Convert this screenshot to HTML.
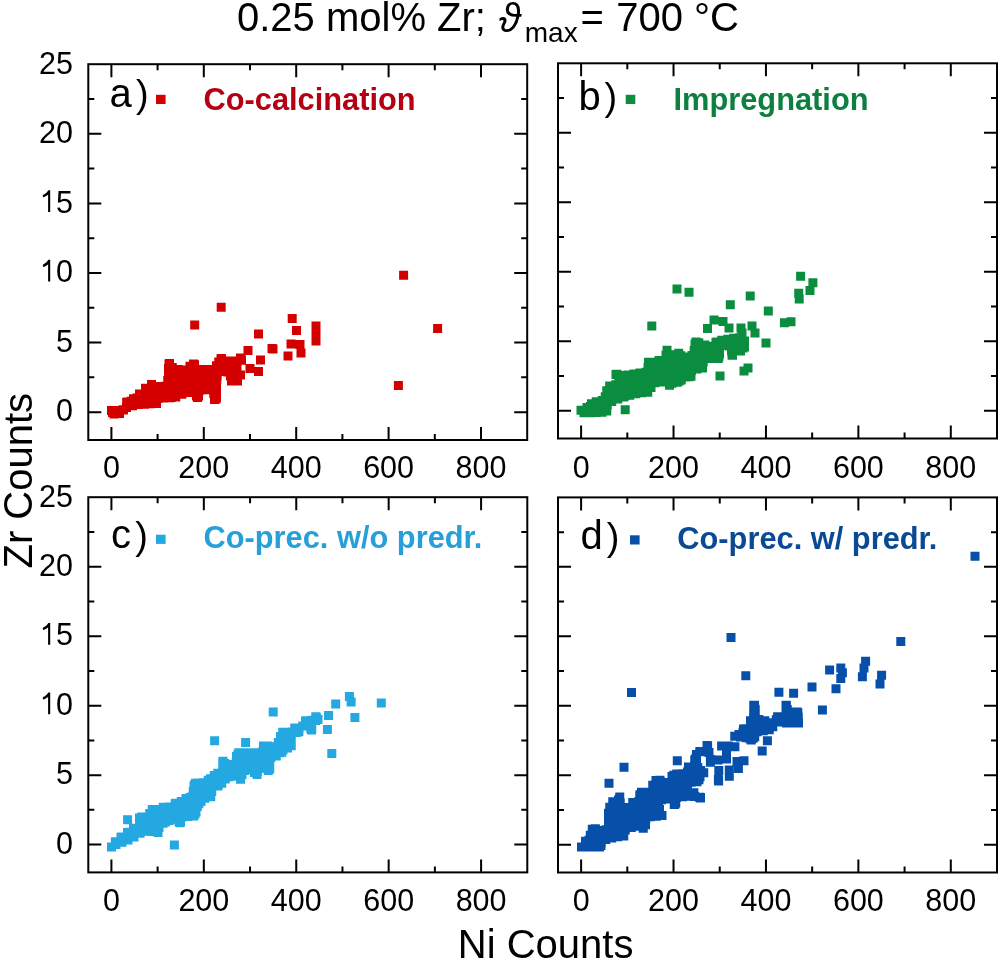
<!DOCTYPE html>
<html><head><meta charset="utf-8"><style>
html,body{margin:0;padding:0;background:#fff;width:1000px;height:962px;overflow:hidden}
svg{display:block;will-change:transform}
text{font-family:"Liberation Sans", sans-serif}
.t{font-size:30.5px;fill:#000}
.lb{font-size:40px;fill:#000}
.pr{font-size:38px;fill:#000}
.lg{font-size:30.8px;font-weight:bold}
.ti{font-size:40px;fill:#000}
</style></head><body>
<svg width="1000" height="962" viewBox="0 0 1000 962">
<rect width="1000" height="962" fill="#fff"/>
<path d="M111.4 440v-13M111.4 64.2v13M157.6 440v-6M157.6 64.2v6M203.8 440v-13M203.8 64.2v13M250 440v-6M250 64.2v6M296.2 440v-13M296.2 64.2v13M342.4 440v-6M342.4 64.2v6M388.6 440v-13M388.6 64.2v13M434.8 440v-6M434.8 64.2v6M481 440v-13M481 64.2v13M88.3 412.16h13M527.2 412.16h-13M88.3 377.37h6M527.2 377.37h-6M88.3 342.57h13M527.2 342.57h-13M88.3 307.77h6M527.2 307.77h-6M88.3 272.98h13M527.2 272.98h-13M88.3 238.18h6M527.2 238.18h-6M88.3 203.39h13M527.2 203.39h-13M88.3 168.59h6M527.2 168.59h-6M88.3 133.79h13M527.2 133.79h-13M88.3 99h6M527.2 99h-6" stroke="#000" stroke-width="2.0" fill="none"/>
<rect x="88.3" y="64.2" width="438.9" height="375.8" stroke="#000" stroke-width="2.0" fill="none"/>
<text x="111.4" y="477.9" text-anchor="middle" class="t">0</text>
<text x="203.8" y="477.9" text-anchor="middle" class="t">200</text>
<text x="296.2" y="477.9" text-anchor="middle" class="t">400</text>
<text x="388.6" y="477.9" text-anchor="middle" class="t">600</text>
<text x="481" y="477.9" text-anchor="middle" class="t">800</text>
<text x="73" y="421.46" text-anchor="end" class="t">0</text>
<text x="73" y="351.87" text-anchor="end" class="t">5</text>
<text x="73" y="282.28" text-anchor="end" class="t">0</text>
<path d="M50.2 259.78v21.7h-2.1v-17.1c-1.1 1 -2.6 1.8 -4.3 2.5l-1 -.6l.1 -1.6c1.9 -.9 3.9 -2.5 5.4 -4.9z" fill="#000"/>
<text x="73" y="212.69" text-anchor="end" class="t">5</text>
<path d="M50.2 190.19v21.7h-2.1v-17.1c-1.1 1 -2.6 1.8 -4.3 2.5l-1 -.6l.1 -1.6c1.9 -.9 3.9 -2.5 5.4 -4.9z" fill="#000"/>
<text x="73" y="143.09" text-anchor="end" class="t">20</text>
<text x="73" y="73.5" text-anchor="end" class="t">25</text>
<path d="M581.11 438.5v-13M581.11 63.3v13M627.32 438.5v-6M627.32 63.3v6M673.53 438.5v-13M673.53 63.3v13M719.74 438.5v-6M719.74 63.3v6M765.95 438.5v-13M765.95 63.3v13M812.16 438.5v-6M812.16 63.3v6M858.37 438.5v-13M858.37 63.3v13M904.58 438.5v-6M904.58 63.3v6M950.79 438.5v-13M950.79 63.3v13M558 410.71h13M997 410.71h-13M558 375.97h6M997 375.97h-6M558 341.23h13M997 341.23h-13M558 306.49h6M997 306.49h-6M558 271.74h13M997 271.74h-13M558 237h6M997 237h-6M558 202.26h13M997 202.26h-13M558 167.52h6M997 167.52h-6M558 132.78h13M997 132.78h-13M558 98.04h6M997 98.04h-6" stroke="#000" stroke-width="2.0" fill="none"/>
<rect x="558" y="63.3" width="439" height="375.2" stroke="#000" stroke-width="2.0" fill="none"/>
<text x="581.11" y="477.9" text-anchor="middle" class="t">0</text>
<text x="673.53" y="477.9" text-anchor="middle" class="t">200</text>
<text x="765.95" y="477.9" text-anchor="middle" class="t">400</text>
<text x="858.37" y="477.9" text-anchor="middle" class="t">600</text>
<text x="950.79" y="477.9" text-anchor="middle" class="t">800</text>
<path d="M111.41 872.4v-13M111.41 497.2v13M157.62 872.4v-6M157.62 497.2v6M203.83 872.4v-13M203.83 497.2v13M250.04 872.4v-6M250.04 497.2v6M296.25 872.4v-13M296.25 497.2v13M342.46 872.4v-6M342.46 497.2v6M388.67 872.4v-13M388.67 497.2v13M434.88 872.4v-6M434.88 497.2v6M481.09 872.4v-13M481.09 497.2v13M88.3 844.61h13M527.3 844.61h-13M88.3 809.87h6M527.3 809.87h-6M88.3 775.13h13M527.3 775.13h-13M88.3 740.39h6M527.3 740.39h-6M88.3 705.64h13M527.3 705.64h-13M88.3 670.9h6M527.3 670.9h-6M88.3 636.16h13M527.3 636.16h-13M88.3 601.42h6M527.3 601.42h-6M88.3 566.68h13M527.3 566.68h-13M88.3 531.94h6M527.3 531.94h-6" stroke="#000" stroke-width="2.0" fill="none"/>
<rect x="88.3" y="497.2" width="439" height="375.2" stroke="#000" stroke-width="2.0" fill="none"/>
<text x="111.41" y="910.9" text-anchor="middle" class="t">0</text>
<text x="203.83" y="910.9" text-anchor="middle" class="t">200</text>
<text x="296.25" y="910.9" text-anchor="middle" class="t">400</text>
<text x="388.67" y="910.9" text-anchor="middle" class="t">600</text>
<text x="481.09" y="910.9" text-anchor="middle" class="t">800</text>
<text x="73" y="853.91" text-anchor="end" class="t">0</text>
<text x="73" y="784.43" text-anchor="end" class="t">5</text>
<text x="73" y="714.94" text-anchor="end" class="t">0</text>
<path d="M50.2 692.44v21.7h-2.1v-17.1c-1.1 1 -2.6 1.8 -4.3 2.5l-1 -.6l.1 -1.6c1.9 -.9 3.9 -2.5 5.4 -4.9z" fill="#000"/>
<text x="73" y="645.46" text-anchor="end" class="t">5</text>
<path d="M50.2 622.96v21.7h-2.1v-17.1c-1.1 1 -2.6 1.8 -4.3 2.5l-1 -.6l.1 -1.6c1.9 -.9 3.9 -2.5 5.4 -4.9z" fill="#000"/>
<text x="73" y="575.98" text-anchor="end" class="t">20</text>
<text x="73" y="506.5" text-anchor="end" class="t">25</text>
<path d="M581.11 872.5v-13M581.11 497.4v13M627.32 872.5v-6M627.32 497.4v6M673.53 872.5v-13M673.53 497.4v13M719.74 872.5v-6M719.74 497.4v6M765.95 872.5v-13M765.95 497.4v13M812.16 872.5v-6M812.16 497.4v6M858.37 872.5v-13M858.37 497.4v13M904.58 872.5v-6M904.58 497.4v6M950.79 872.5v-13M950.79 497.4v13M558 844.71h13M997 844.71h-13M558 809.98h6M997 809.98h-6M558 775.25h13M997 775.25h-13M558 740.52h6M997 740.52h-6M558 705.79h13M997 705.79h-13M558 671.06h6M997 671.06h-6M558 636.33h13M997 636.33h-13M558 601.59h6M997 601.59h-6M558 566.86h13M997 566.86h-13M558 532.13h6M997 532.13h-6" stroke="#000" stroke-width="2.0" fill="none"/>
<rect x="558" y="497.4" width="439" height="375.1" stroke="#000" stroke-width="2.0" fill="none"/>
<text x="581.11" y="910.9" text-anchor="middle" class="t">0</text>
<text x="673.53" y="910.9" text-anchor="middle" class="t">200</text>
<text x="765.95" y="910.9" text-anchor="middle" class="t">400</text>
<text x="858.37" y="910.9" text-anchor="middle" class="t">600</text>
<text x="950.79" y="910.9" text-anchor="middle" class="t">800</text>
<path d="M216.67 357.52h9v9h-9zM221.05 357.16h9v9h-9zM227.31 356.9h9v9h-9zM186.49 362.05h9v9h-9zM212.04 363.67h9v9h-9zM216.26 362.93h9v9h-9zM221.06 361.81h9v9h-9zM227.02 361.31h9v9h-9zM232.27 362.57h9v9h-9zM166.87 368.01h9v9h-9zM172.47 367.84h9v9h-9zM176.19 367.59h9v9h-9zM180.8 367.71h9v9h-9zM185.32 366.66h9v9h-9zM191.1 368.2h9v9h-9zM197.02 367.11h9v9h-9zM201.79 366.4h9v9h-9zM205.69 368.66h9v9h-9zM210.99 367.25h9v9h-9zM216.62 367h9v9h-9zM221.45 366.88h9v9h-9zM225.42 366.73h9v9h-9zM231.56 366.47h9v9h-9zM166.93 372.32h9v9h-9zM171.18 373.67h9v9h-9zM175.93 373.17h9v9h-9zM181.33 372.16h9v9h-9zM185.45 373.37h9v9h-9zM191.98 373.47h9v9h-9zM196.38 372.92h9v9h-9zM200.59 372.26h9v9h-9zM205.8 371.4h9v9h-9zM212.58 371.82h9v9h-9zM232.66 371.66h9v9h-9zM165.34 378.33h9v9h-9zM171.09 376.69h9v9h-9zM175.66 377.87h9v9h-9zM182.62 377.51h9v9h-9zM187.46 377.51h9v9h-9zM191.68 377.93h9v9h-9zM197.23 378.12h9v9h-9zM202.68 378.09h9v9h-9zM207.47 376.79h9v9h-9zM211.58 377.74h9v9h-9zM145.66 383.67h9v9h-9zM151.29 382.77h9v9h-9zM161.43 381.66h9v9h-9zM165.38 382.78h9v9h-9zM171.81 381.55h9v9h-9zM176.62 382.13h9v9h-9zM181.22 383.16h9v9h-9zM186.48 383.42h9v9h-9zM191.76 382.42h9v9h-9zM196.82 382.11h9v9h-9zM200.6 382.94h9v9h-9zM206.79 383.19h9v9h-9zM210.61 383.49h9v9h-9zM141.03 386.57h9v9h-9zM146.32 387.66h9v9h-9zM152.51 388.55h9v9h-9zM156.3 386.54h9v9h-9zM162.16 388.06h9v9h-9zM165.37 387.37h9v9h-9zM171.95 386.37h9v9h-9zM177.51 388.61h9v9h-9zM182.03 386.49h9v9h-9zM185.47 387.16h9v9h-9zM190.37 387.13h9v9h-9zM210.79 387.92h9v9h-9zM132.45 393.57h9v9h-9zM137.23 392.06h9v9h-9zM140.88 393.11h9v9h-9zM146 392.31h9v9h-9zM150.41 391.62h9v9h-9zM155.35 391.49h9v9h-9zM160.48 392.31h9v9h-9zM166.62 393.08h9v9h-9zM170.64 392.31h9v9h-9zM122.14 397.81h9v9h-9zM126.61 396.67h9v9h-9zM132 397.43h9v9h-9zM136.93 398.12h9v9h-9zM140.86 398.13h9v9h-9zM145.97 398.66h9v9h-9zM150.59 398.42h9v9h-9zM111.83 406.72h9v9h-9zM107 406h9v9h-9zM109.5 409.5h9v9h-9zM115 409h9v9h-9zM113.75 406h9v9h-9zM107.75 406h9v9h-9zM236 353.5h9v9h-9zM232.75 356.5h9v9h-9zM226.75 356.5h9v9h-9zM220.75 356.5h9v9h-9zM217 354h9v9h-9zM214.25 357.5h9v9h-9zM212 361.25h9v9h-9zM209.5 365h9v9h-9zM203.5 365h9v9h-9zM197.5 365h9v9h-9zM191.5 365h9v9h-9zM190 360.25h9v9h-9zM185.5 361.75h9v9h-9zM179.75 365.5h9v9h-9zM173.75 365h9v9h-9zM167.75 363h9v9h-9zM165 359h9v9h-9zM164 364h9v9h-9zM164 370h9v9h-9zM163.25 376h9v9h-9zM159 382h9v9h-9zM153 382h9v9h-9zM147 380h9v9h-9zM141 383.75h9v9h-9zM135 389.5h9v9h-9zM129 394.25h9v9h-9zM123 397.5h9v9h-9zM122 403h9v9h-9zM128 401.25h9v9h-9zM134 400h9v9h-9zM140 399.75h9v9h-9zM146 399.25h9v9h-9zM152 399h9v9h-9zM153.25 394h9v9h-9zM159.25 393.5h9v9h-9zM165.25 393.25h9v9h-9zM171.25 392.5h9v9h-9zM177.25 389.75h9v9h-9zM183.25 388h9v9h-9zM189.25 388h9v9h-9zM192 391.5h9v9h-9zM194 391.5h9v9h-9zM194.75 386h9v9h-9zM200.75 385.25h9v9h-9zM206.75 385h9v9h-9zM209.25 389h9v9h-9zM210 395h9v9h-9zM212 393h9v9h-9zM212 387h9v9h-9zM212 381h9v9h-9zM212.25 375h9v9h-9zM212.75 369h9v9h-9zM217.25 367h9v9h-9zM223.25 367.5h9v9h-9zM226 371.5h9v9h-9zM227 376.5h9v9h-9zM233 376.5h9v9h-9zM236 370.5h9v9h-9zM232.5 366.25h9v9h-9zM232.25 360.25h9v9h-9zM237 355.75h9v9h-9zM119 405.25h9v9h-9zM118.5 405.5h9v9h-9zM216.7 302.7h9v9h-9zM190.2 320.5h9v9h-9zM287.7 314h9v9h-9zM292 326h9v9h-9zM254 329.5h9v9h-9zM267.5 344h9v9h-9zM243.5 346h9v9h-9zM311.5 321.5h9v9h-9zM311.5 330.5h9v9h-9zM311.5 336.5h9v9h-9zM286.5 339.5h9v9h-9zM295.5 340h9v9h-9zM296.5 348.5h9v9h-9zM283.5 351.5h9v9h-9zM268.5 344.5h9v9h-9zM256 355.5h9v9h-9zM245.5 364h9v9h-9zM254 367h9v9h-9zM399.1 270.7h9v9h-9zM433.1 323.9h9v9h-9zM393.9 380.9h9v9h-9zM211.5 394.5h9v9h-9zM193 393h9v9h-9zM230 375.5h9v9h-9zM164.5 359.5h9v9h-9zM189 359.5h9v9h-9zM216.5 354.5h9v9h-9zM236.5 353.5h9v9h-9zM108 408h9v9h-9zM113.5 408h9v9h-9z" fill="#d40000"/>
<path d="M691.4 337.66h9v9h-9zM714.68 337.57h9v9h-9zM720.47 337.65h9v9h-9zM726.11 338.42h9v9h-9zM730.49 337.05h9v9h-9zM735.42 338.24h9v9h-9zM694.32 341.66h9v9h-9zM700.1 343.2h9v9h-9zM706.02 342.11h9v9h-9zM710.79 341.4h9v9h-9zM714.69 343.66h9v9h-9zM730.45 341.88h9v9h-9zM734.42 341.73h9v9h-9zM689.65 346.78h9v9h-9zM695.21 347.61h9v9h-9zM699.66 348.67h9v9h-9zM706.66 346.66h9v9h-9zM710.27 347.93h9v9h-9zM665.71 353.34h9v9h-9zM671.22 352.88h9v9h-9zM674.3 351.74h9v9h-9zM684.46 353.36h9v9h-9zM691.56 352.03h9v9h-9zM695.28 353.24h9v9h-9zM699.45 352.84h9v9h-9zM704.61 351.99h9v9h-9zM711.29 351.43h9v9h-9zM714.39 352.3h9v9h-9zM654.41 358.54h9v9h-9zM660.47 358.46h9v9h-9zM666.57 357.9h9v9h-9zM670.67 356.82h9v9h-9zM674.52 358.27h9v9h-9zM681.43 358.17h9v9h-9zM685.98 357.31h9v9h-9zM690.03 356.57h9v9h-9zM695.32 357.66h9v9h-9zM646.45 363.57h9v9h-9zM651.23 362.06h9v9h-9zM654.88 363.11h9v9h-9zM660 362.31h9v9h-9zM664.41 361.62h9v9h-9zM669.35 361.49h9v9h-9zM674.48 362.31h9v9h-9zM680.62 363.08h9v9h-9zM684.64 362.31h9v9h-9zM690.83 361.5h9v9h-9zM695.37 362.19h9v9h-9zM645.25 366.54h9v9h-9zM649.91 366.98h9v9h-9zM656.11 368.48h9v9h-9zM660.73 366.39h9v9h-9zM666.2 367.03h9v9h-9zM670.12 367.57h9v9h-9zM674.9 368.51h9v9h-9zM679.69 367.3h9v9h-9zM685 367.55h9v9h-9zM616.7 373.4h9v9h-9zM620.98 373.05h9v9h-9zM624.84 373.1h9v9h-9zM629.99 371.55h9v9h-9zM635.41 372.09h9v9h-9zM639.7 372.31h9v9h-9zM646.45 372.34h9v9h-9zM650.37 373h9v9h-9zM655.56 371.61h9v9h-9zM661.48 372.37h9v9h-9zM666.19 372.23h9v9h-9zM671.24 372.23h9v9h-9zM674.83 371.77h9v9h-9zM684.42 372.23h9v9h-9zM619.41 377.18h9v9h-9zM624.8 377.56h9v9h-9zM629.75 376.78h9v9h-9zM635.91 378.07h9v9h-9zM640.05 378.36h9v9h-9zM644.91 377.13h9v9h-9zM651.01 376.41h9v9h-9zM656.54 376.47h9v9h-9zM671.65 377.41h9v9h-9zM674.58 376.5h9v9h-9zM605.16 382.92h9v9h-9zM610.99 382.89h9v9h-9zM614.83 383.3h9v9h-9zM619.88 382.54h9v9h-9zM625.92 381.86h9v9h-9zM630.81 381.99h9v9h-9zM634.71 383.24h9v9h-9zM640.63 382.09h9v9h-9zM645.71 381.36h9v9h-9zM605.81 386.36h9v9h-9zM609.41 386.84h9v9h-9zM615.87 386.46h9v9h-9zM619.45 388.63h9v9h-9zM625.31 388.44h9v9h-9zM629.82 387.34h9v9h-9zM635.16 386.72h9v9h-9zM601.65 393.15h9v9h-9zM605.67 391.93h9v9h-9zM610.95 392.39h9v9h-9zM616.03 392.27h9v9h-9zM620.49 391.35h9v9h-9zM594.98 397.33h9v9h-9zM601.68 398.02h9v9h-9zM586.01 402.09h9v9h-9zM589.36 402.44h9v9h-9zM595.55 401.4h9v9h-9zM600.66 402.13h9v9h-9zM581.27 407.12h9v9h-9zM586.25 406.49h9v9h-9zM590.33 407.15h9v9h-9zM735.25 333.25h9v9h-9zM729.25 333.75h9v9h-9zM723.25 334.75h9v9h-9zM717.25 335.75h9v9h-9zM711.5 337.75h9v9h-9zM706.25 342h9v9h-9zM700.25 341.5h9v9h-9zM694.25 338.25h9v9h-9zM690.5 339.75h9v9h-9zM689.75 345.75h9v9h-9zM687.5 351h9v9h-9zM681.5 352.5h9v9h-9zM676.25 351.25h9v9h-9zM674.25 348.75h9v9h-9zM670.75 352h9v9h-9zM665.75 350.25h9v9h-9zM662.5 345.75h9v9h-9zM661.5 350.75h9v9h-9zM660.5 356h9v9h-9zM654.5 356h9v9h-9zM650 357.75h9v9h-9zM644 357.75h9v9h-9zM643.5 363.25h9v9h-9zM641.5 367.75h9v9h-9zM635.5 368.5h9v9h-9zM629.5 369.5h9v9h-9zM623.5 370.5h9v9h-9zM617.5 371h9v9h-9zM612.5 369.75h9v9h-9zM614.25 371.75h9v9h-9zM615.25 377.5h9v9h-9zM611.25 380.25h9v9h-9zM605.25 381.5h9v9h-9zM602.25 386.25h9v9h-9zM600.75 392.25h9v9h-9zM597.75 396h9v9h-9zM591.75 397.25h9v9h-9zM587 399.25h9v9h-9zM582.5 403h9v9h-9zM576.5 405.75h9v9h-9zM579.5 408.25h9v9h-9zM585.5 408.25h9v9h-9zM591.5 408h9v9h-9zM597.5 407.75h9v9h-9zM602.25 406.5h9v9h-9zM602.75 400.5h9v9h-9zM607.25 397h9v9h-9zM613.25 394.5h9v9h-9zM619.25 392.5h9v9h-9zM625.25 390.75h9v9h-9zM631.25 389.25h9v9h-9zM637.25 388.25h9v9h-9zM643.25 387.75h9v9h-9zM646.5 383h9v9h-9zM650.25 378.25h9v9h-9zM656.25 377.5h9v9h-9zM662.25 377.25h9v9h-9zM665 380.75h9v9h-9zM667.5 378.75h9v9h-9zM672.75 377.75h9v9h-9zM676.75 375.5h9v9h-9zM680.75 372.5h9v9h-9zM686.5 371.75h9v9h-9zM687 365.75h9v9h-9zM692.5 364.5h9v9h-9zM698 363.5h9v9h-9zM698.75 357.5h9v9h-9zM701.75 354h9v9h-9zM707.75 354h9v9h-9zM713.75 354h9v9h-9zM715 349.25h9v9h-9zM715 343.25h9v9h-9zM719 341h9v9h-9zM725 341.5h9v9h-9zM727 346.25h9v9h-9zM728 350.75h9v9h-9zM730 346.5h9v9h-9zM736 346.5h9v9h-9zM740 342.5h9v9h-9zM740 336.5h9v9h-9zM737.25 333.25h9v9h-9zM796.1 271.7h9v9h-9zM808.4 278.3h9v9h-9zM805.5 285.9h9v9h-9zM794.2 288.8h9v9h-9zM794.7 294.5h9v9h-9zM672.5 284.4h9v9h-9zM684.5 287.8h9v9h-9zM745.7 291.6h9v9h-9zM725.8 300.2h9v9h-9zM763.8 306.4h9v9h-9zM647.3 321.6h9v9h-9zM779.9 318.2h9v9h-9zM786.5 317.3h9v9h-9zM703 324h9v9h-9zM709.5 315.5h9v9h-9zM718.5 317h9v9h-9zM724.5 323.5h9v9h-9zM736.5 323.5h9v9h-9zM747.5 321.5h9v9h-9zM750.5 328.5h9v9h-9zM737.5 328.5h9v9h-9zM761.5 338.5h9v9h-9zM715.5 371.5h9v9h-9zM739.5 366.5h9v9h-9zM743.5 363.5h9v9h-9zM727.5 350.5h9v9h-9zM738.5 343.5h9v9h-9zM713 337.5h9v9h-9zM713.5 353.5h9v9h-9zM691.5 337.5h9v9h-9zM700.5 340.5h9v9h-9zM620.7 405.3h9v9h-9zM611.5 370h9v9h-9z" fill="#0a8d3f"/>
<path d="M210.51 772.39h9v9h-9zM190.82 778.79h9v9h-9zM200.29 778.86h9v9h-9zM204.3 777.76h9v9h-9zM210.1 777.87h9v9h-9zM189.53 782.59h9v9h-9zM195.86 784.4h9v9h-9zM199.97 784.65h9v9h-9zM204.54 784.35h9v9h-9zM189.99 788.25h9v9h-9zM195.62 788h9v9h-9zM200.45 787.88h9v9h-9zM204.42 787.73h9v9h-9zM185.33 793.16h9v9h-9zM189.45 794.37h9v9h-9zM195.98 794.47h9v9h-9zM171.32 798.7h9v9h-9zM176.02 799.24h9v9h-9zM179.46 797.5h9v9h-9zM186.39 797.39h9v9h-9zM189.84 797.4h9v9h-9zM194.34 799.33h9v9h-9zM161.56 803.03h9v9h-9zM165.28 804.24h9v9h-9zM169.45 803.84h9v9h-9zM174.61 802.99h9v9h-9zM181.29 802.43h9v9h-9zM184.39 803.3h9v9h-9zM190.48 804.37h9v9h-9zM151.22 809.5h9v9h-9zM156.39 808.93h9v9h-9zM161.24 808.55h9v9h-9zM166.19 807.75h9v9h-9zM171.18 808.37h9v9h-9zM176.12 808.39h9v9h-9zM181.19 807.48h9v9h-9zM184.41 809.54h9v9h-9zM190.47 809.46h9v9h-9zM136.51 814.61h9v9h-9zM144.47 813.16h9v9h-9zM149.37 813.13h9v9h-9zM154.32 814.64h9v9h-9zM161.27 812.47h9v9h-9zM166.44 812.8h9v9h-9zM169.79 813.92h9v9h-9zM176.55 812.6h9v9h-9zM139.35 817.49h9v9h-9zM144.48 818.31h9v9h-9zM150.62 819.08h9v9h-9zM154.64 818.31h9v9h-9zM160.83 817.5h9v9h-9zM175.28 818.3h9v9h-9zM131.14 823.81h9v9h-9zM135.61 822.67h9v9h-9zM141 823.43h9v9h-9zM145.93 824.12h9v9h-9zM149.86 824.13h9v9h-9zM125.81 827.68h9v9h-9zM130.97 828.22h9v9h-9zM135.72 827.63h9v9h-9zM116.45 833.34h9v9h-9zM120.37 834h9v9h-9zM125.56 832.61h9v9h-9zM110.87 837.64h9v9h-9zM212 771.25h9v9h-9zM206 774.25h9v9h-9zM200 778.25h9v9h-9zM194 778.5h9v9h-9zM189.75 780.75h9v9h-9zM188.75 786.75h9v9h-9zM187.25 792.5h9v9h-9zM181.5 794h9v9h-9zM176.75 797h9v9h-9zM170.75 799.25h9v9h-9zM164.75 802.5h9v9h-9zM158.75 802.75h9v9h-9zM153.75 805h9v9h-9zM147.75 805h9v9h-9zM145.25 809h9v9h-9zM142.75 813.25h9v9h-9zM137.25 812.5h9v9h-9zM135 813.5h9v9h-9zM135 819.5h9v9h-9zM129 824.25h9v9h-9zM123 828h9v9h-9zM117 832.5h9v9h-9zM111 837.25h9v9h-9zM107 842.5h9v9h-9zM111.5 840h9v9h-9zM117.5 837.75h9v9h-9zM123.5 835.5h9v9h-9zM129.5 832.5h9v9h-9zM135.5 828.75h9v9h-9zM141.5 826.75h9v9h-9zM147.5 827h9v9h-9zM153.5 828h9v9h-9zM154.5 823h9v9h-9zM158.5 818.75h9v9h-9zM164.5 816h9v9h-9zM170.5 814.75h9v9h-9zM174.5 817h9v9h-9zM176 817.5h9v9h-9zM177.25 812.5h9v9h-9zM183.25 812h9v9h-9zM189.25 811.5h9v9h-9zM191.5 807.5h9v9h-9zM192.75 802h9v9h-9zM196.5 797h9v9h-9zM200.25 793.75h9v9h-9zM206.25 792.25h9v9h-9zM207.25 787h9v9h-9zM210.25 781h9v9h-9zM212 775h9v9h-9zM213.25 768.75h9v9h-9zM302.56 717.46h9v9h-9zM308.52 715.8h9v9h-9zM287.48 727.38h9v9h-9zM294.19 727.29h9v9h-9zM278.73 731.38h9v9h-9zM283.05 730.45h9v9h-9zM279.21 735.49h9v9h-9zM284.58 735.72h9v9h-9zM274.29 741.25h9v9h-9zM278.26 741.77h9v9h-9zM282.86 740.32h9v9h-9zM259.12 745.43h9v9h-9zM263.94 747.02h9v9h-9zM268.14 746.54h9v9h-9zM272.7 747.05h9v9h-9zM277.4 747.65h9v9h-9zM233.35 750.35h9v9h-9zM238.81 751.75h9v9h-9zM244.3 750.8h9v9h-9zM247.98 751.6h9v9h-9zM252.96 751.71h9v9h-9zM257.9 751.94h9v9h-9zM264.2 752.24h9v9h-9zM269.64 751.61h9v9h-9zM218.48 756.85h9v9h-9zM233.74 757.42h9v9h-9zM239.29 756.53h9v9h-9zM244.67 756.41h9v9h-9zM249.3 756.28h9v9h-9zM254.09 757.67h9v9h-9zM258.03 755.71h9v9h-9zM263.79 756.57h9v9h-9zM219.3 761.46h9v9h-9zM223.42 760.41h9v9h-9zM228.52 762.09h9v9h-9zM233.31 761.15h9v9h-9zM238.88 760.35h9v9h-9zM243.52 762.57h9v9h-9zM248.96 761.26h9v9h-9zM253.95 761.75h9v9h-9zM257.8 760.8h9v9h-9zM264.43 760.95h9v9h-9zM218.8 765.7h9v9h-9zM224.64 766.36h9v9h-9zM229.49 767.05h9v9h-9zM233.76 765.93h9v9h-9zM238.56 765.63h9v9h-9zM252.88 767.02h9v9h-9zM213.72 772.48h9v9h-9zM219.69 770.41h9v9h-9zM224.21 772.36h9v9h-9zM228.07 771.22h9v9h-9zM203.75 776.64h9v9h-9zM208.55 775.45h9v9h-9zM213.15 776.29h9v9h-9zM203.09 781.11h9v9h-9zM213.7 780.55h9v9h-9zM290.25 723.5h9v9h-9zM284.25 727.75h9v9h-9zM278.25 727.75h9v9h-9zM276 732h9v9h-9zM273.75 738h9v9h-9zM269.25 742.25h9v9h-9zM263.25 741.5h9v9h-9zM259 741.5h9v9h-9zM258.25 747.25h9v9h-9zM252.25 748.25h9v9h-9zM246.25 748.25h9v9h-9zM240.25 748.25h9v9h-9zM234.25 748.25h9v9h-9zM232 752h9v9h-9zM231.75 758h9v9h-9zM225.75 760h9v9h-9zM220.25 759h9v9h-9zM218.25 758.75h9v9h-9zM218.25 764.75h9v9h-9zM215.75 769.25h9v9h-9zM209.75 771h9v9h-9zM203.75 775.75h9v9h-9zM199 778.25h9v9h-9zM201.25 782h9v9h-9zM207.25 782h9v9h-9zM213.25 781.5h9v9h-9zM217.25 778.75h9v9h-9zM220.75 774.5h9v9h-9zM226.75 771.75h9v9h-9zM232.75 771.25h9v9h-9zM236 774.75h9v9h-9zM237.5 770.25h9v9h-9zM240 766h9v9h-9zM246 765.25h9v9h-9zM250 768h9v9h-9zM252.5 770h9v9h-9zM254.5 764h9v9h-9zM260.5 763h9v9h-9zM263.75 766h9v9h-9zM265.25 764.5h9v9h-9zM265.25 758.5h9v9h-9zM266.25 753h9v9h-9zM271.75 751.5h9v9h-9zM275 748.25h9v9h-9zM278.5 745.25h9v9h-9zM283 743.5h9v9h-9zM286.75 741.25h9v9h-9zM286.75 735.25h9v9h-9zM286.75 729.25h9v9h-9zM291.75 728h9v9h-9zM294.5 724.75h9v9h-9zM311.25 712.25h9v9h-9zM306.75 716h9v9h-9zM301 716.75h9v9h-9zM303.75 719.5h9v9h-9zM306.25 723.75h9v9h-9zM307.25 724.5h9v9h-9zM307.25 718.5h9v9h-9zM311 716h9v9h-9zM298.25 721.5h9v9h-9zM268.7 707.5h9v9h-9zM210.1 736.3h9v9h-9zM241.1 738.1h9v9h-9zM344.9 692h9v9h-9zM346.6 697.5h9v9h-9zM331.2 699.5h9v9h-9zM376.8 698.4h9v9h-9zM350.4 712.9h9v9h-9zM324 710.9h9v9h-9zM311.9 712.9h9v9h-9zM313.5 715.1h9v9h-9zM301.5 716.2h9v9h-9zM307 725.5h9v9h-9zM322.9 725h9v9h-9zM327.3 749h9v9h-9zM291.5 723.9h9v9h-9zM294.3 727.2h9v9h-9zM169.9 840.5h9v9h-9zM123.1 815.3h9v9h-9z" fill="#23a8e2"/>
<path d="M690.79 754.4h9v9h-9zM690.38 760.92h9v9h-9zM686.46 765.51h9v9h-9zM690.68 765.93h9v9h-9zM696.23 766.12h9v9h-9zM669.38 770.78h9v9h-9zM675.81 769.55h9v9h-9zM680.62 770.13h9v9h-9zM685.22 771.16h9v9h-9zM690.48 771.42h9v9h-9zM655.32 775.66h9v9h-9zM671.16 776.06h9v9h-9zM674.37 775.37h9v9h-9zM680.95 774.37h9v9h-9zM686.51 776.61h9v9h-9zM691.03 774.49h9v9h-9zM694.47 775.16h9v9h-9zM651.23 780.06h9v9h-9zM654.88 781.11h9v9h-9zM660 780.31h9v9h-9zM664.41 779.62h9v9h-9zM669.35 779.49h9v9h-9zM674.48 780.31h9v9h-9zM680.62 781.08h9v9h-9zM651 785.43h9v9h-9zM655.93 786.12h9v9h-9zM659.86 786.13h9v9h-9zM664.97 786.66h9v9h-9zM669.59 786.42h9v9h-9zM674.4 784.92h9v9h-9zM680.56 785.7h9v9h-9zM635.43 790.3h9v9h-9zM640.44 790.97h9v9h-9zM645.06 790.86h9v9h-9zM649.44 790.02h9v9h-9zM656.09 789.43h9v9h-9zM660.79 789.36h9v9h-9zM665.43 791.43h9v9h-9zM669.32 790.56h9v9h-9zM674.46 791.38h9v9h-9zM680.95 791.08h9v9h-9zM685.91 789.32h9v9h-9zM689.4 790.79h9v9h-9zM614.83 794.77h9v9h-9zM640.83 794.72h9v9h-9zM645.77 795.77h9v9h-9zM650.99 795.53h9v9h-9zM609.75 799.78h9v9h-9zM631.01 799.41h9v9h-9zM636.54 799.47h9v9h-9zM640.41 801.04h9v9h-9zM644.41 801.24h9v9h-9zM651.65 800.41h9v9h-9zM670.36 799.49h9v9h-9zM605.88 806.08h9v9h-9zM610.54 806.36h9v9h-9zM614.59 805.85h9v9h-9zM619.58 806.07h9v9h-9zM625.16 805.92h9v9h-9zM630.99 805.89h9v9h-9zM634.83 806.3h9v9h-9zM639.88 805.54h9v9h-9zM645.92 804.86h9v9h-9zM650.81 804.99h9v9h-9zM654.71 806.24h9v9h-9zM605.05 811.33h9v9h-9zM609.92 810.75h9v9h-9zM615.99 811.27h9v9h-9zM621.18 810.22h9v9h-9zM624.44 809.39h9v9h-9zM631.04 811.61h9v9h-9zM635.12 810.36h9v9h-9zM641.04 810.88h9v9h-9zM644.92 810.91h9v9h-9zM650.03 810.16h9v9h-9zM655.59 811.06h9v9h-9zM606.06 814.66h9v9h-9zM610.09 816.32h9v9h-9zM616.27 814.89h9v9h-9zM619.35 816.24h9v9h-9zM624.71 816.19h9v9h-9zM630.94 814.7h9v9h-9zM634.49 816.53h9v9h-9zM640.73 815.79h9v9h-9zM605.57 820.12h9v9h-9zM611.65 821.63h9v9h-9zM614.8 820.66h9v9h-9zM620.09 821.62h9v9h-9zM626.52 820.71h9v9h-9zM631.03 820.94h9v9h-9zM635.15 821.5h9v9h-9zM591.11 824.94h9v9h-9zM601.68 826.02h9v9h-9zM606.57 825.59h9v9h-9zM610.63 826.68h9v9h-9zM614.76 826.18h9v9h-9zM586.16 830.76h9v9h-9zM589.52 829.37h9v9h-9zM594.33 829.9h9v9h-9zM601.13 830.23h9v9h-9zM606.16 830.8h9v9h-9zM610.23 831.41h9v9h-9zM614.39 830.42h9v9h-9zM584.5 835.64h9v9h-9zM591.25 834.78h9v9h-9zM594.93 835.98h9v9h-9zM599.91 834.92h9v9h-9zM581.01 840.16h9v9h-9zM586.3 839.49h9v9h-9zM589.43 840.15h9v9h-9zM596.46 841.12h9v9h-9zM696 793h9v9h-9zM692 750h9v9h-9zM690.25 755.75h9v9h-9zM690 761.75h9v9h-9zM684 762.5h9v9h-9zM683 767.5h9v9h-9zM678.25 769.25h9v9h-9zM672.25 769.5h9v9h-9zM667.5 772h9v9h-9zM664.5 778h9v9h-9zM659.25 779.75h9v9h-9zM655.75 776.75h9v9h-9zM651.5 776h9v9h-9zM648.25 780.75h9v9h-9zM648.25 786.75h9v9h-9zM643 787.75h9v9h-9zM637 787.75h9v9h-9zM635.25 791.75h9v9h-9zM634.25 797.25h9v9h-9zM628.25 798h9v9h-9zM623.5 803h9v9h-9zM617.5 803.25h9v9h-9zM615.75 798.5h9v9h-9zM615.25 792.5h9v9h-9zM614 795.75h9v9h-9zM608.25 797.25h9v9h-9zM605.25 802.75h9v9h-9zM604 808.75h9v9h-9zM604 814.75h9v9h-9zM604 820.75h9v9h-9zM601.75 825.25h9v9h-9zM595.75 826h9v9h-9zM590.75 824.25h9v9h-9zM587.75 824.75h9v9h-9zM585.75 830.75h9v9h-9zM581 836.75h9v9h-9zM577 842.5h9v9h-9zM583 842.5h9v9h-9zM589 842.5h9v9h-9zM595 842.5h9v9h-9zM596.75 838h9v9h-9zM601.25 835h9v9h-9zM607.25 833.5h9v9h-9zM613.25 832.25h9v9h-9zM619.25 831.5h9v9h-9zM620.75 825.5h9v9h-9zM626.75 823h9v9h-9zM632.75 821.75h9v9h-9zM638.75 823.75h9v9h-9zM641 820.25h9v9h-9zM641.25 814.25h9v9h-9zM645.75 812.25h9v9h-9zM651.75 811.75h9v9h-9zM657.5 811h9v9h-9zM655 805h9v9h-9zM654 799h9v9h-9zM657 795.25h9v9h-9zM663 794.5h9v9h-9zM669 794.5h9v9h-9zM669.75 800h9v9h-9zM671.25 798.5h9v9h-9zM672 793h9v9h-9zM678 792.25h9v9h-9zM684 791.75h9v9h-9zM690 792h9v9h-9zM695 792.75h9v9h-9zM689 790.5h9v9h-9zM683 786h9v9h-9zM682.25 780h9v9h-9zM686.5 777.75h9v9h-9zM692.5 777.25h9v9h-9zM695.5 772.25h9v9h-9zM699.25 768.25h9v9h-9zM693.25 763h9v9h-9zM692 757h9v9h-9zM692 751h9v9h-9zM702.5 741h9v9h-9zM696 747h9v9h-9zM695.25 747.25h9v9h-9zM750.66 704.72h9v9h-9zM749.16 709.13h9v9h-9zM783.91 710.32h9v9h-9zM789.92 708.5h9v9h-9zM793.34 708.33h9v9h-9zM749.07 714.44h9v9h-9zM774.75 715.26h9v9h-9zM783.65 715.03h9v9h-9zM788.68 714.99h9v9h-9zM750.62 720.4h9v9h-9zM754.04 720.36h9v9h-9zM759.04 720.55h9v9h-9zM765.09 719.3h9v9h-9zM739.01 724.5h9v9h-9zM744.08 725.39h9v9h-9zM750.46 723.34h9v9h-9zM753.78 724.09h9v9h-9zM760.67 725.18h9v9h-9zM764.11 723.81h9v9h-9zM740.38 729.75h9v9h-9zM745.59 730.43h9v9h-9zM748.62 729.62h9v9h-9zM745.67 734.31h9v9h-9zM748.58 733.7h9v9h-9zM781.5 700.75h9v9h-9zM781.5 706.75h9v9h-9zM781.5 712.75h9v9h-9zM776 713.5h9v9h-9zM771.75 715.25h9v9h-9zM776 717.5h9v9h-9zM782 718.5h9v9h-9zM788 718.5h9v9h-9zM794 718.5h9v9h-9zM793.75 712.5h9v9h-9zM792.5 707.5h9v9h-9zM786.5 707.5h9v9h-9zM782.75 705h9v9h-9zM749.25 700.75h9v9h-9zM749.25 706.75h9v9h-9zM749.25 712.75h9v9h-9zM746 716.25h9v9h-9zM746 722.25h9v9h-9zM741.25 724.25h9v9h-9zM738.5 727.75h9v9h-9zM734.5 730h9v9h-9zM730.25 731.75h9v9h-9zM736 732.5h9v9h-9zM742 733.25h9v9h-9zM746.75 735.5h9v9h-9zM750.25 732.25h9v9h-9zM752.75 727.25h9v9h-9zM758.75 726.25h9v9h-9zM764.75 725.25h9v9h-9zM768.25 722.25h9v9h-9zM766.25 718.25h9v9h-9zM760.25 716.25h9v9h-9zM754.25 715h9v9h-9zM750.75 712h9v9h-9zM750.75 706h9v9h-9zM750 700.75h9v9h-9zM970.5 551.8h9v9h-9zM726.5 633h9v9h-9zM896.3 637.1h9v9h-9zM627 688h9v9h-9zM741.3 671.3h9v9h-9zM861.1 656.8h9v9h-9zM859.5 663.5h9v9h-9zM857.9 672.3h9v9h-9zM877.1 670.7h9v9h-9zM875.5 679.5h9v9h-9zM825.1 665.4h9v9h-9zM836.3 663.5h9v9h-9zM837.9 668.3h9v9h-9zM836.3 673.9h9v9h-9zM831.5 684.3h9v9h-9zM807.5 682.4h9v9h-9zM774.4 687.8h9v9h-9zM789.1 688.8h9v9h-9zM817.9 705.6h9v9h-9zM781.9 701.1h9v9h-9zM789.9 708.3h9v9h-9zM773.1 712.3h9v9h-9zM757.7 746.6h9v9h-9zM762.9 736.2h9v9h-9zM695.9 793.4h9v9h-9zM714.1 776.5h9v9h-9zM689.4 788.2h9v9h-9zM703.1 741.4h9v9h-9zM619.5 762.8h9v9h-9zM604.5 778.8h9v9h-9zM672.8 756.3h9v9h-9zM703.1 741.6h9v9h-9zM717.1 741.6h9v9h-9zM730.4 742.3h9v9h-9zM705.9 754.9h9v9h-9zM722 747.5h9v9h-9zM722 754.5h9v9h-9zM739.5 756.3h9v9h-9zM733.9 764h9v9h-9zM714.3 766h9v9h-9zM724.8 771.7h9v9h-9zM713.9 775h9v9h-9zM705.9 757.7h9v9h-9zM713.6 755.6h9v9h-9zM732.5 757h9v9h-9zM724.8 765.5h9v9h-9zM723.7 741.6h9v9h-9zM704.5 747.9h9v9h-9z" fill="#0750aa"/>
<text x="109.5" y="106.5" class="lb">a</text>
<text x="136.0" y="107.0" class="pr">)</text>
<rect x="156" y="94.8" width="9.6" height="9.2" fill="#d40000"/>
<text x="203.5" y="109.9" class="lg" fill="#b40012">Co-calcination</text>
<text x="578.5" y="109.5" class="lb">b</text>
<text x="604.6" y="110.0" class="pr">)</text>
<rect x="625.7" y="94.8" width="9.6" height="9.2" fill="#0a8d3f"/>
<text x="673.5" y="109.8" class="lg" fill="#0d8040">Impregnation</text>
<text x="111.0" y="547.9" class="lb">c</text>
<text x="135.2" y="548.8" class="pr">)</text>
<rect x="156" y="534.7" width="9.6" height="9.2" fill="#23a8e2"/>
<text x="203.5" y="547.9" class="lg" fill="#279fd8">Co-prec. w/o predr.</text>
<text x="580.5" y="549.0" class="lb">d</text>
<text x="606.8" y="549.5" class="pr">)</text>
<rect x="630" y="535.3" width="9.6" height="9.2" fill="#0750aa"/>
<text x="677.3" y="549.0" class="lg" fill="#0a4a94">Co-prec. w/ predr.</text>
<text x="237" y="30.5" class="ti">0.25 mol% Zr; <tspan font-style="italic" dx="1.7" dy="1.1">ϑ</tspan></text>
<text x="524.8" y="41.6" class="ti" style="font-size:28px">max</text>
<text x="580.6" y="30.5" class="ti">=</text>
<text x="616.2" y="30.5" class="ti">700 °C</text>
<text x="457.8" y="957.6" class="ti">Ni Counts</text>
<text transform="translate(31.6,568.5) rotate(-90)" x="0" y="0" class="ti">Zr Counts</text>
</svg>
</body></html>
